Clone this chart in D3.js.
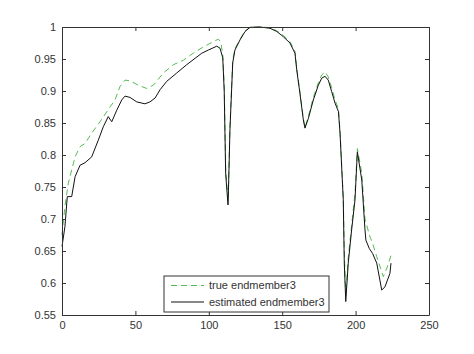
<!DOCTYPE html>
<html>
<head>
<meta charset="utf-8">
<script src="https://cdn.jsdelivr.net/npm/d3@7"></script>
<style>
  body { margin: 0; background: #fff; }
  svg { display: block; font-family: "Liberation Sans", Arial, sans-serif; }
</style>
</head>
<body>
<svg id="chart"></svg>
<script>
// values
const estX = [0, 2, 3.6, 6.6, 8.9, 12.3, 15.7, 20.2, 24.7, 28.1, 31.5, 33.9, 37.3, 40.7, 42.9, 46.3, 50.9, 56.5, 59.9, 63.4, 66.8, 71.3, 78.1, 84.9, 90.6, 95.2, 99.7, 105.4, 107.6, 109.5, 110.5, 111.5, 113.1, 113.4, 114.4, 116.3, 117.8, 121.3, 124.7, 128.1, 134.9, 141.7, 146.3, 150.7, 155.3, 158.7, 159.9, 162.1, 164.4, 165.5, 167.8, 171.2, 174.6, 176.9, 179.2, 181.4, 183.7, 186, 188.3, 189.4, 190.5, 191.6, 192.3, 193.3, 195, 197.3, 199.6, 201.2, 204.2, 206.4, 207, 209.3, 211.6, 214.4, 217.8, 220, 223.4, 224.1];
const estY = [0.657, 0.688, 0.735, 0.735, 0.766, 0.784, 0.788, 0.797, 0.823, 0.844, 0.860, 0.852, 0.870, 0.886, 0.892, 0.890, 0.883, 0.880, 0.883, 0.889, 0.902, 0.915, 0.928, 0.941, 0.951, 0.959, 0.964, 0.970, 0.967, 0.952, 0.90, 0.77, 0.722, 0.745, 0.839, 0.944, 0.964, 0.980, 0.993, 0.9995, 1.0, 0.998, 0.993, 0.985, 0.975, 0.959, 0.933, 0.896, 0.855, 0.842, 0.857, 0.886, 0.909, 0.920, 0.923, 0.917, 0.899, 0.881, 0.868, 0.834, 0.782, 0.730, 0.631, 0.571, 0.631, 0.683, 0.730, 0.805, 0.761, 0.683, 0.667, 0.654, 0.646, 0.631, 0.589, 0.594, 0.615, 0.631];

const trueX = [0, 2, 4.3, 8.9, 12.3, 15.7, 20.2, 25.9, 32.7, 36.1, 39.5, 42.9, 46.3, 52, 57.7, 62.2, 69, 75.8, 82.6, 89.4, 96.3, 103.1, 106.5, 108.1, 109.5, 110.5, 111.5, 113.1, 113.4, 114.4, 116.3, 117.8, 121.3, 124.7, 128.1, 134.9, 141.7, 146.3, 150.7, 155.3, 158.7, 159.9, 162.1, 164.4, 165.5, 167.8, 171.2, 174.6, 176.9, 179.2, 181.4, 183.7, 186, 188.3, 189.4, 190.5, 191.6, 192.3, 193.3, 195, 197.3, 199.6, 201.2, 204.2, 206.4, 209.8, 211.6, 214.4, 218.9, 221.6, 224.1];
const trueY = [0.675, 0.72, 0.756, 0.797, 0.813, 0.818, 0.834, 0.852, 0.875, 0.886, 0.907, 0.917, 0.916, 0.909, 0.904, 0.909, 0.928, 0.941, 0.948, 0.959, 0.969, 0.977, 0.981, 0.977, 0.958, 0.91, 0.78, 0.728, 0.75, 0.845, 0.948, 0.966, 0.981, 0.994, 0.9995, 1.0, 0.999, 0.994, 0.987, 0.977, 0.962, 0.936, 0.898, 0.857, 0.843, 0.86, 0.89, 0.913, 0.925, 0.93, 0.922, 0.905, 0.886, 0.872, 0.838, 0.785, 0.733, 0.65, 0.58, 0.64, 0.69, 0.74, 0.81, 0.772, 0.70, 0.672, 0.662, 0.641, 0.61, 0.625, 0.643];

const xTicks = [0, 50, 100, 150, 200, 250];
const yTicks = [0.55, 0.6, 0.65, 0.7, 0.75, 0.8, 0.85, 0.9, 0.95, 1];
const seriesNames = ["true endmember3", "estimated endmember3"];

const width = 474, height = 354;
const margin = {top: 27, right: 45, bottom: 39, left: 62};

const svg = d3.select("#chart")
  .attr("width", width)
  .attr("height", height);

const x = d3.scaleLinear().domain([0, 250]).range([margin.left, width - margin.right]);
const y = d3.scaleLinear().domain([0.55, 1]).range([height - margin.bottom, margin.top]);

const line = d3.line()
  .x(d => x(d[0]))
  .y(d => y(d[1]));

const trueData = trueX.map((v, i) => [v, trueY[i]]);
const estData = estX.map((v, i) => [v, estY[i]]);

// curves
svg.append("path")
  .datum(trueData)
  .attr("fill", "none")
  .attr("stroke", "#55bb55")
  .attr("stroke-width", 1)
  .attr("stroke-dasharray", "6,4")
  .attr("d", line);

svg.append("path")
  .datum(estData)
  .attr("fill", "none")
  .attr("stroke", "#111")
  .attr("stroke-width", 1)
  .attr("d", line);

// axes (box with inward ticks)
const styleAxis = g => {
  g.selectAll(".domain").attr("stroke", "#333");
  g.selectAll(".tick line").attr("stroke", "#333");
  g.selectAll("text").attr("fill", "#333").style("font-size", "11px");
};

svg.append("g")
  .attr("transform", `translate(0,${height - margin.bottom})`)
  .call(d3.axisBottom(x).tickValues(xTicks).tickSize(-4).tickSizeOuter(0).tickPadding(6).tickFormat(d3.format("d")))
  .call(styleAxis);

svg.append("g")
  .attr("transform", `translate(${margin.left},0)`)
  .call(d3.axisLeft(y).tickValues(yTicks).tickSize(-4).tickSizeOuter(0).tickPadding(6).tickFormat(d => d3.format("")(+d.toFixed(2))))
  .call(styleAxis);

svg.append("g")
  .attr("transform", `translate(0,${margin.top})`)
  .call(d3.axisTop(x).tickValues(xTicks).tickSize(-4).tickSizeOuter(0).tickFormat(""))
  .call(styleAxis);

svg.append("g")
  .attr("transform", `translate(${width - margin.right},0)`)
  .call(d3.axisRight(y).tickValues(yTicks).tickSize(-4).tickSizeOuter(0).tickFormat(""))
  .call(styleAxis);

// legend
const legend = svg.append("g").attr("transform", "translate(164,276)");
legend.append("rect")
  .attr("width", 165)
  .attr("height", 36)
  .attr("fill", "#fff")
  .attr("stroke", "#333");

const legendRows = legend.selectAll(".row")
  .data(seriesNames)
  .join("g")
    .attr("transform", (d, i) => `translate(0,${9.5 + i * 16.5})`);

legendRows.append("line")
  .attr("x1", 7)
  .attr("x2", 40)
  .attr("stroke", (d, i) => i === 0 ? "#55bb55" : "#111")
  .attr("stroke-dasharray", (d, i) => i === 0 ? "6,4" : null);

legendRows.append("text")
  .attr("x", 45)
  .attr("dy", "0.35em")
  .attr("fill", "#333")
  .style("font-size", "11px")
  .text(d => d);
</script>
</body>
</html>
